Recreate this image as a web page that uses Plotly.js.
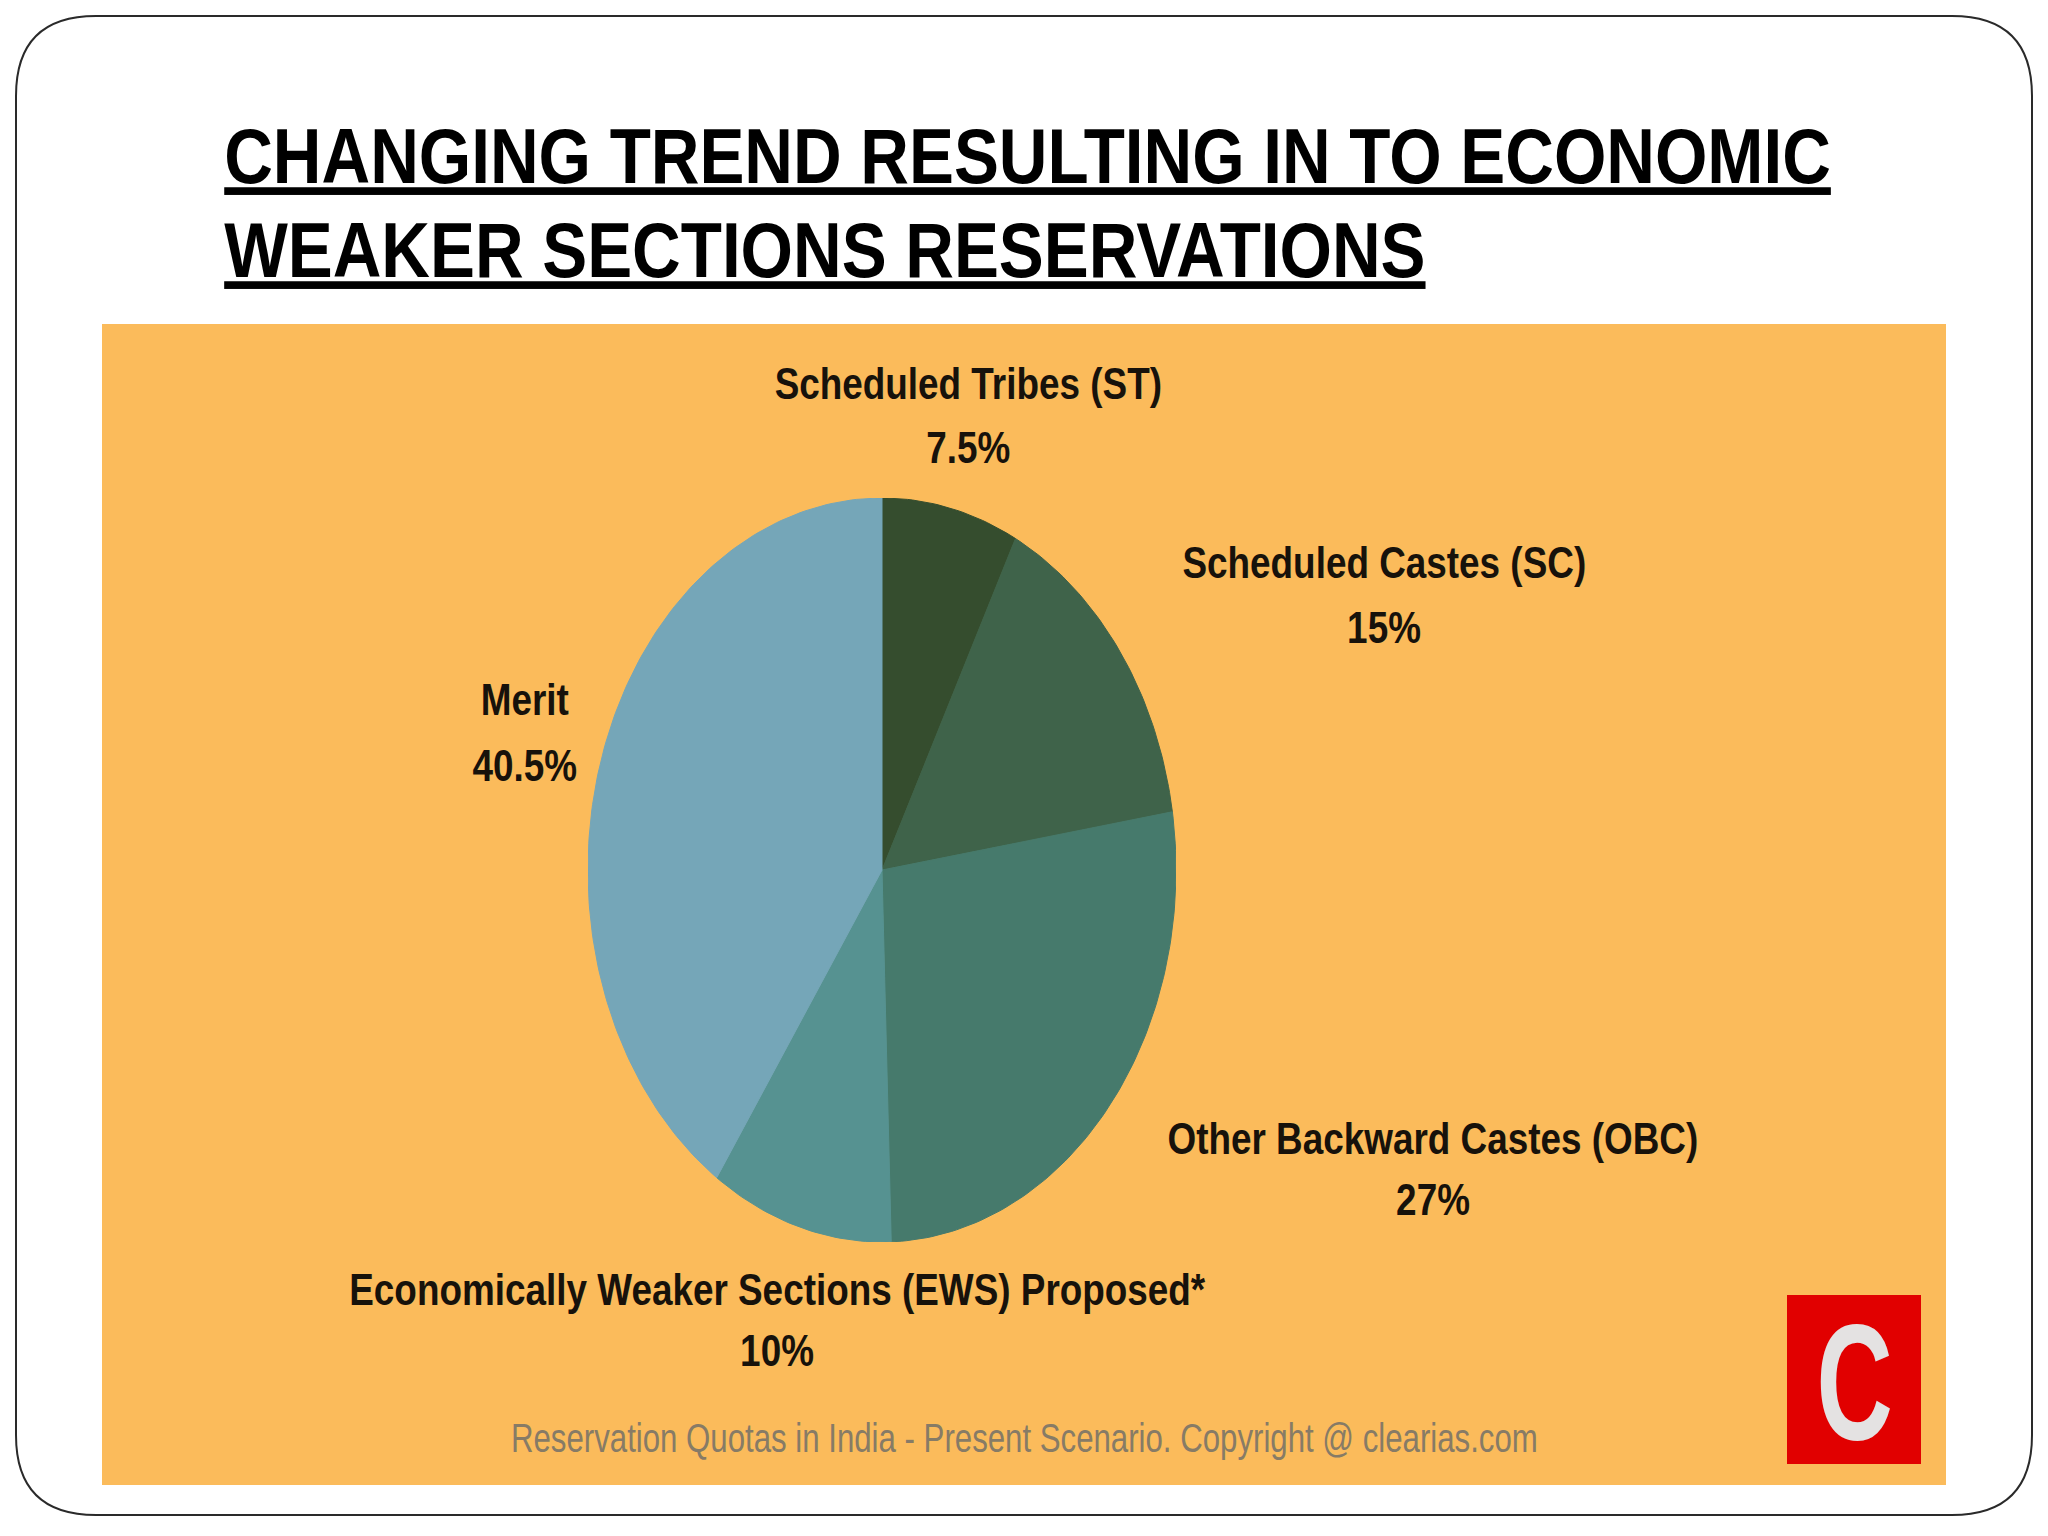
<!DOCTYPE html>
<html>
<head>
<meta charset="utf-8">
<script src="https://cdn.plot.ly/plotly-3.0.1.min.js"></script>
<style>
  html, body { margin: 0; padding: 0; background: #ffffff; overflow: hidden; }
  #chart { width: 2048px; height: 1536px; }
</style>
</head>
<body>
<div id="chart"></div>
<script>
// Reservation quota shares (percent), clockwise from 12 o'clock
const categories = [
  'Scheduled Tribes (ST)',
  'Scheduled Castes (SC)',
  'Other Backward Castes (OBC)',
  'Economically Weaker Sections (EWS) Proposed*',
  'Merit'
];
const shares = [7.5, 15, 27, 10, 40.5];
const sliceColors = ['#354d2e', '#3f634a', '#467a6c', '#569291', '#75a6b8'];

const titleLines = [
  'CHANGING TREND RESULTING IN TO ECONOMIC',
  'WEAKER SECTIONS RESERVATIONS'
];
const captionText = 'Reservation Quotas in India - Present Scenario. Copyright @ clearias.com';
const logoLetter = 'C';

// ---- page geometry (pixels) ----
const W = 2048, H = 1536;
const px = x => x / W;
const py = y => 1 - y / H;

const SANS = 'Liberation Sans, Arial, sans-serif';

// pie box on the page (ellipse)
const pie = { cx: 882, cy: 870, rx: 294, ry: 372 };

// label anchor points (name line, value line) per category
const labelPos = [
  { x: 968,  yName: 383,  yVal: 447 },
  { x: 1384, yName: 563,  yVal: 627 },
  { x: 1433, yName: 1138, yVal: 1199 },
  { x: 777,  yName: 1289, yVal: 1350 },
  { x: 525,  yName: 699,  yVal: 765 }
];

// ---- pie slices as filled wedges on a unit-circle axis pair ----
const total = shares.reduce((a, b) => a + b, 0);
const traces = [];
let acc = 0;
shares.forEach((v, i) => {
  const a0 = acc / total * 2 * Math.PI;
  acc += v;
  const a1 = acc / total * 2 * Math.PI;
  const n = Math.max(8, Math.ceil((a1 - a0) / (2 * Math.PI) * 360));
  const xs = [0], ys = [0];
  for (let k = 0; k <= n; k++) {
    const t = a0 + (a1 - a0) * k / n;
    xs.push(Math.sin(t));
    ys.push(Math.cos(t));
  }
  xs.push(0); ys.push(0);
  traces.push({
    type: 'scatter', mode: 'lines', x: xs, y: ys,
    fill: 'toself', fillcolor: sliceColors[i],
    line: { color: sliceColors[i], width: 1 },
    hoverinfo: 'skip', showlegend: false, name: categories[i]
  });
});

// ---- annotations (with a horizontal condensing factor for each) ----
const annotations = [];
const condense = [];
function addText(a, k, origin) {
  annotations.push(a);
  condense.push({ k: k, origin: origin });
}

titleLines.forEach((t, i) => {
  addText({
    xref: 'paper', yref: 'paper', x: px(222), y: py(i === 0 ? 156 : 250),
    xanchor: 'left', yanchor: 'middle', showarrow: false,
    text: '<u><b>' + t + '</b></u>',
    font: { family: SANS, size: 77, color: '#000000' }
  }, 0.875, 'left center');
});
categories.forEach((c, i) => {
  const p = labelPos[i];
  addText({
    xref: 'paper', yref: 'paper', x: px(p.x), y: py(p.yName),
    xanchor: 'center', yanchor: 'middle', showarrow: false,
    text: '<b>' + c + '</b>',
    font: { family: SANS, size: 45, color: '#17120b' }
  }, 0.82, 'center');
  addText({
    xref: 'paper', yref: 'paper', x: px(p.x), y: py(p.yVal),
    xanchor: 'center', yanchor: 'middle', showarrow: false,
    text: '<b>' + shares[i] + '%</b>',
    font: { family: SANS, size: 45, color: '#17120b' }
  }, 0.82, 'center');
});
addText({
  xref: 'paper', yref: 'paper', x: px(1024), y: py(1438),
  xanchor: 'center', yanchor: 'middle', showarrow: false,
  text: captionText,
  font: { family: SANS, size: 40, color: '#877b66' }
}, 0.78, 'center');
addText({
  xref: 'paper', yref: 'paper', x: px(1854), y: py(1382),
  xanchor: 'center', yanchor: 'middle', showarrow: false,
  text: '<b>' + logoLetter + '</b>',
  font: { family: SANS, size: 165, color: '#e4e2e2' }
}, 0.64, 'center');

// ---- shapes: slide frame, orange panel, logo tile ----
function roundedRectPath(x0, y0, x1, y1, r) {
  const P = (x, y) => px(x) + ',' + py(y);
  return 'M' + P(x0 + r, y0) +
    ' L' + P(x1 - r, y0) + ' Q' + P(x1, y0) + ' ' + P(x1, y0 + r) +
    ' L' + P(x1, y1 - r) + ' Q' + P(x1, y1) + ' ' + P(x1 - r, y1) +
    ' L' + P(x0 + r, y1) + ' Q' + P(x0, y1) + ' ' + P(x0, y1 - r) +
    ' L' + P(x0, y0 + r) + ' Q' + P(x0, y0) + ' ' + P(x0 + r, y0) + ' Z';
}

const shapes = [
  { type: 'path', xref: 'paper', yref: 'paper', layer: 'below',
    path: roundedRectPath(16, 16, 2032, 1515, 80),
    line: { color: '#2a2a2a', width: 2 }, fillcolor: 'rgba(0,0,0,0)' },
  { type: 'rect', xref: 'paper', yref: 'paper', layer: 'below',
    x0: px(102), x1: px(1946), y0: py(1485), y1: py(324),
    line: { width: 0 }, fillcolor: '#fbbb5b' },
  { type: 'rect', xref: 'paper', yref: 'paper', layer: 'above',
    x0: px(1787), x1: px(1921), y0: py(1464), y1: py(1295),
    line: { width: 0 }, fillcolor: '#e10000' }
];

const axisCommon = { range: [-1, 1], visible: false, fixedrange: true, showgrid: false, zeroline: false };

const layout = {
  width: W, height: H,
  margin: { l: 0, r: 0, t: 0, b: 0, pad: 0 },
  paper_bgcolor: '#ffffff', plot_bgcolor: 'rgba(0,0,0,0)',
  showlegend: false, hovermode: false,
  xaxis: Object.assign({ domain: [px(pie.cx - pie.rx), px(pie.cx + pie.rx)] }, axisCommon),
  yaxis: Object.assign({ domain: [py(pie.cy + pie.ry), py(pie.cy - pie.ry)] }, axisCommon),
  shapes: shapes,
  annotations: annotations
};

Plotly.newPlot('chart', traces, layout, { staticPlot: true, displayModeBar: false }).then(gd => {
  // narrow the annotation glyphs horizontally (condensed lettering)
  gd.querySelectorAll('g.annotation').forEach(g => {
    const idx = +g.getAttribute('data-index');
    const c = condense[idx];
    const txt = g.querySelector('text.annotation-text');
    if (!c || !txt) return;
    txt.style.transformBox = 'fill-box';
    txt.style.transformOrigin = c.origin;
    txt.style.transform = 'scaleX(' + c.k + ')';
  });
});
</script>
</body>
</html>
